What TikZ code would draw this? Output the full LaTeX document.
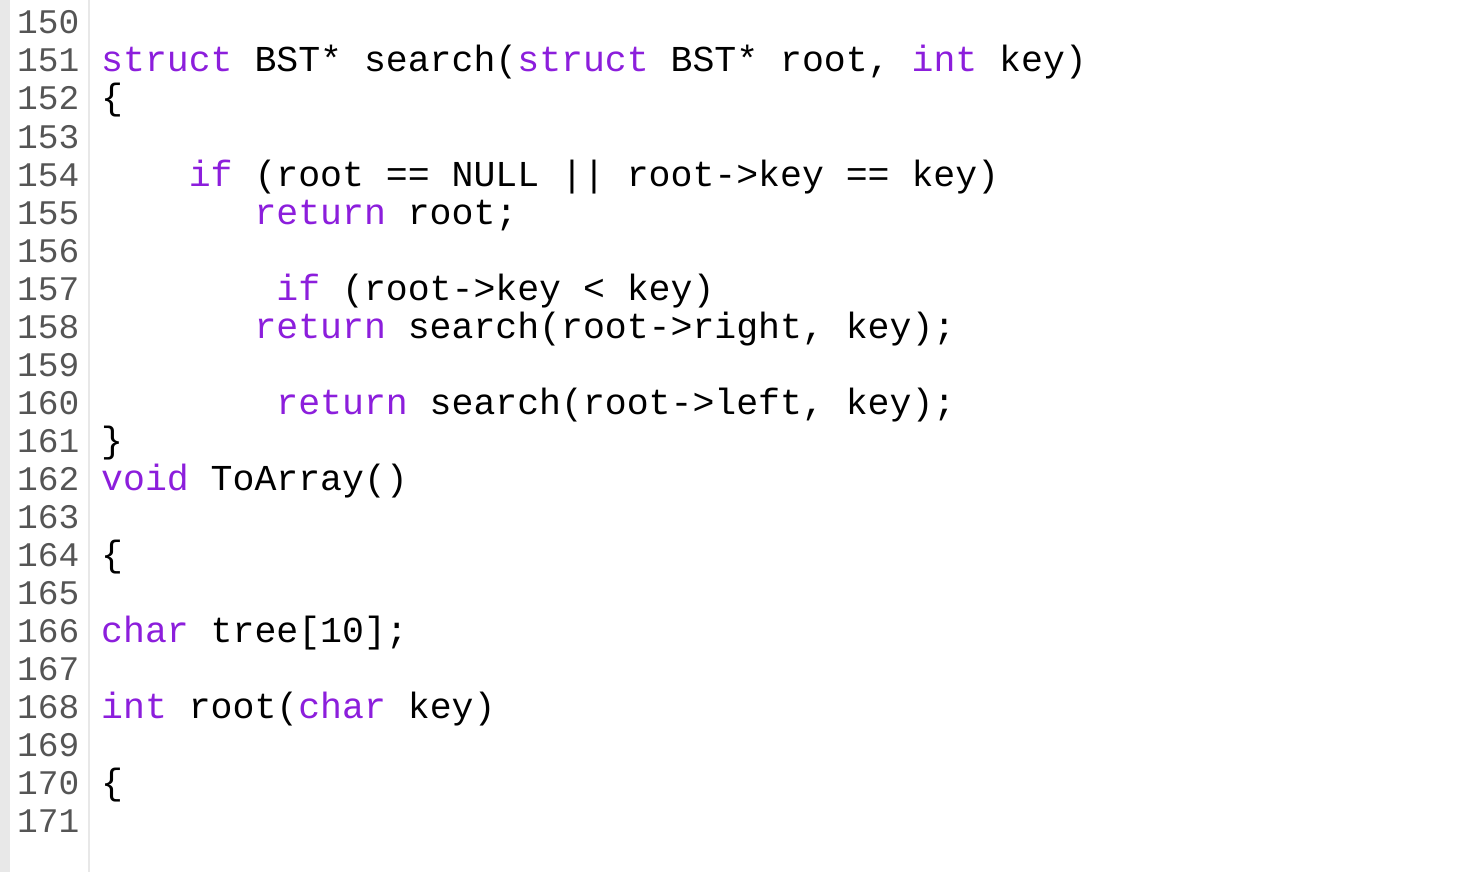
\documentclass[tikz,border=0pt]{standalone}
\usepackage{fontspec}
\setmainfont{Liberation Mono}[WordSpace={1,0,0}]
\definecolor{kw}{RGB}{140,30,220}
\definecolor{ln}{RGB}{85,85,85}
\definecolor{gut}{RGB}{232,232,232}
\newcommand{\kw}[1]{\textcolor{kw}{#1}}
\tikzset{code/.style={anchor=base west,inner sep=0pt,font=\fontsize{36.5}{38}\selectfont},
 num/.style={anchor=base west,inner sep=0pt,text=ln,font=\fontsize{34.5}{38}\selectfont}}
\begin{document}
\begin{tikzpicture}[x=1pt,y=-1pt]
\useasboundingbox (0,0) rectangle (1474,872);
\fill[white] (0,0) rectangle (1474,872);
\fill[gut] (0,0) rectangle (10,872);
\draw[gut,line width=1.5pt] (89,0) -- (89,872);
\foreach \n in {150,...,171}{
  \node[num] (n\n) at (17,{34+38*(\n-150)}) {\n};
}
\def\cw{21.9}
\node[code] (l151) at (101,{34+38*1}) {\kw{struct} BST* search(\kw{struct} BST* root, \kw{int} key)};
\node[code] (l152) at (101,{34+38*2}) {\{};
\node[code] (l154) at ({101+4*\cw},{34+38*4}) {\kw{if} (root == NULL || root->key == key)};
\node[code] (l155) at ({101+7*\cw},{34+38*5}) {\kw{return} root;};
\node[code] (l157) at ({101+8*\cw},{34+38*7}) {\kw{if} (root->key < key)};
\node[code] (l158) at ({101+7*\cw},{34+38*8}) {\kw{return} search(root->right, key);};
\node[code] (l160) at ({101+8*\cw},{34+38*10}) {\kw{return} search(root->left, key);};
\node[code] (l161) at (101,{34+38*11}) {\}};
\node[code] (l162) at (101,{34+38*12}) {\kw{void} ToArray()};
\node[code] (l164) at (101,{34+38*14}) {\{};
\node[code] (l166) at (101,{34+38*16}) {\kw{char} tree[10];};
\node[code] (l168) at (101,{34+38*18}) {\kw{int} root(\kw{char} key)};
\node[code] (l170) at (101,{34+38*20}) {\{};
\end{tikzpicture}
\end{document}
